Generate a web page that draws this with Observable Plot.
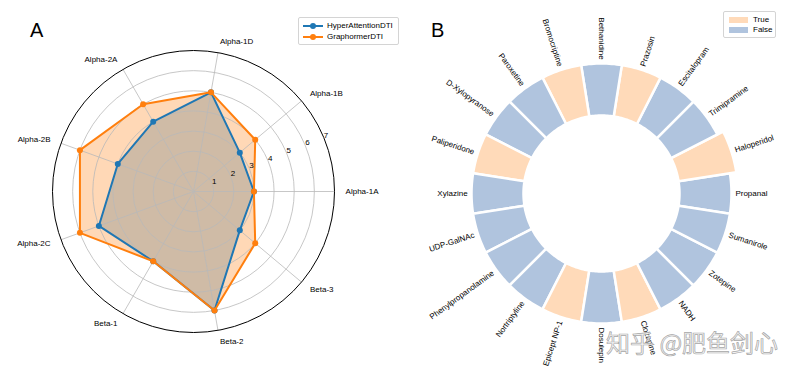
<!DOCTYPE html>
<html>
<head>
<meta charset="utf-8">
<script src="https://cdn.jsdelivr.net/npm/d3@7"></script>
<script src="https://cdn.jsdelivr.net/npm/@observablehq/plot@0.6"></script>
<style>
  body { margin: 0; background: #fff; font-family: "Liberation Sans", Arial, sans-serif; }
  #wrap { position: relative; width: 797px; height: 376px; overflow: hidden; background: #fff; }
  #panelA { position: absolute; left: 0; top: 0; }
  #panelB { position: absolute; left: 398px; top: 0; }
  .letter { position: absolute; font-size: 20px; line-height: 20px; color: #000; }
  .legend { position: absolute; background: rgba(255,255,255,0.85); border: 1px solid #d4d4d4; border-radius: 2px; box-sizing: border-box; }
  .row { position: absolute; left: 0; height: 10px; display: flex; align-items: center; font-size: 8px; line-height: 10px; color: #000; white-space: nowrap; }
  .row svg { display: block; }
  .wm { position: absolute; left: 606px; top: 328px; font-family: "Noto Sans CJK SC", sans-serif; font-size: 24px; line-height: 28px; color: rgba(240,240,240,0.85); -webkit-text-stroke: 0.7px rgba(150,150,150,0.85); white-space: nowrap; letter-spacing: 0px; }
</style>
</head>
<body>
<div id="wrap">
  <div id="panelA"></div>
  <div id="panelB"></div>
  <div class="letter" style="left:30px; top:20px;">A</div>
  <div class="letter" style="left:431px; top:20px;">B</div>
  <div class="legend" id="legA" style="left:298px; top:17px; width:101px; height:28px;"></div>
  <div class="legend" id="legB" style="left:723px; top:11px; width:53px; height:27px;"></div>
  <div class="wm">知乎 @肥鱼剑心</div>
</div>
<script>
// ---------- Panel A data ----------
const categories = ["Alpha-1A", "Alpha-1B", "Alpha-1D", "Alpha-2A", "Alpha-2B", "Alpha-2C", "Beta-1", "Beta-2", "Beta-3"];
const hyperAttentionDTI = [3, 3, 5, 4, 4, 5, 4, 6, 3];
const graphormerDTI = [3, 4, 5, 5, 6, 6, 4, 6, 4];
const seriesNames = ["HyperAttentionDTI", "GraphormerDTI"];
const seriesColors = ["#1f77b4", "#ff7f0e"];
const ringTicks = [1, 2, 3, 4, 5, 6, 7];
const rMax = 7;

// ---------- Panel B data ----------
const drugs = ["Propanal", "Haloperidol", "Trimipramine", "Escitalopram", "Prazosin", "Bethanidine",
  "Bromocriptine", "Paroxetine", "D-Xylopyranose", "Paliperidone", "Xylazine", "UDP-GalNAc",
  "Phenylpropanolamine", "Nortriptyline", "Epicept NP-1", "Dosulepin", "Clozapine", "NADH",
  "Zotepine", "Sumanirole"];
const interaction = ["False", "True", "False", "False", "True", "False",
  "True", "False", "False", "True", "False", "False",
  "False", "False", "True", "False", "True", "False",
  "False", "False"];
const barHeights = [2, 2.25, 2, 2, 2, 2, 2, 2, 2, 2, 2, 2, 2, 2, 2, 2, 2, 2, 2, 2];
const statusNames = ["True", "False"];
const statusColors = ["#ffdab9", "#b0c4de"];
const barBottom = 3;

const font = '"Liberation Sans", Arial, sans-serif';
const rad = d => d * Math.PI / 180;

// ---------- Panel A ----------
const nCat = categories.length;
const catAngle = i => 360 * i / nCat;
const radarRows = [];
[hyperAttentionDTI, graphormerDTI].forEach((vals, s) => {
  vals.forEach((v, i) => {
    const a = rad(catAngle(i));
    radarRows.push({series: seriesNames[s], cat: categories[i], v, x: v * Math.cos(a), y: v * Math.sin(a)});
  });
});
const spokes = categories.map((c, i) => ({cat: c, a: rad(catAngle(i))}));
const catLabels = categories.map((c, i) => {
  const a = rad(catAngle(i));
  return {cat: c, x: 7.55 * Math.cos(a), y: 7.55 * Math.sin(a), right: Math.cos(a) > 0};
});
const tickLabels = ringTicks.map(v => ({v, x: v * Math.cos(rad(22.5)), y: v * Math.sin(rad(22.5))}));

const radarMarks = [];
// fills
seriesNames.forEach((s, k) => {
  radarMarks.push(Plot.line(radarRows.filter(d => d.series === s), {
    x: "x", y: "y", fill: seriesColors[k], fillOpacity: 0.3, stroke: "none", curve: "linear-closed"
  }));
});
// grid
radarMarks.push(Plot.dot(ringTicks.filter(v => v < rMax), {x: () => 0, y: () => 0, r: d => d, stroke: "#b9b9b9", strokeWidth: 0.8, fill: "none"}));
radarMarks.push(Plot.link(spokes, {x1: () => 0, y1: () => 0, x2: d => rMax * Math.cos(d.a), y2: d => rMax * Math.sin(d.a), stroke: "#b9b9b9", strokeWidth: 0.8}));
radarMarks.push(Plot.dot([rMax], {x: () => 0, y: () => 0, r: d => d, stroke: "#000", strokeWidth: 1, fill: "none"}));
// lines + markers
seriesNames.forEach((s, k) => {
  const rows = radarRows.filter(d => d.series === s);
  radarMarks.push(Plot.line(rows, {x: "x", y: "y", stroke: seriesColors[k], strokeWidth: 2, curve: "linear-closed"}));
  radarMarks.push(Plot.dot(rows, {x: "x", y: "y", r: 3, fill: seriesColors[k], stroke: "none"}));
});
radarMarks.push(Plot.text(tickLabels, {x: "x", y: "y", text: d => String(d.v), textAnchor: "start", lineAnchor: "bottom", fontSize: 8, fill: "#000"}));
radarMarks.push(Plot.text(catLabels.filter(d => d.right), {x: "x", y: "y", text: "cat", textAnchor: "start", fontSize: 8, fill: "#000"}));
radarMarks.push(Plot.text(catLabels.filter(d => !d.right), {x: "x", y: "y", text: "cat", textAnchor: "end", fontSize: 8, fill: "#000"}));

const plotA = Plot.plot({
  width: 398, height: 376,
  marginLeft: 52, marginRight: 64, marginTop: 50, marginBottom: 44,
  x: {domain: [-rMax, rMax], axis: null},
  y: {domain: [-rMax, rMax], axis: null},
  r: {type: "linear", domain: [0, rMax], range: [0, 141]},
  style: {fontFamily: font, fontSize: "8px", background: "transparent", overflow: "visible"},
  marks: radarMarks
});
document.getElementById("panelA").append(plotA);

// ---------- Panel B ----------
const nDrug = drugs.length;
const step = 360 / nDrug;
const segPts = [];
drugs.forEach((name, i) => {
  const c = i * step, top = barBottom + barHeights[i], N = 16;
  for (let k = 0; k <= N; k++) {
    const a = rad(c - step / 2 + step * k / N);
    segPts.push({name, status: interaction[i], x: top * Math.cos(a), y: top * Math.sin(a)});
  }
  for (let k = N; k >= 0; k--) {
    const a = rad(c - step / 2 + step * k / N);
    segPts.push({name, status: interaction[i], x: barBottom * Math.cos(a), y: barBottom * Math.sin(a)});
  }
});
const drugLabels = drugs.map((name, i) => {
  let a = i * step;
  if (a > 180) a -= 360;
  const r = barBottom + barHeights[i] + 0.15;
  return {name, a, x: r * Math.cos(rad(a)), y: r * Math.sin(rad(a)), right: a >= -90 && a < 90};
});

const plotB = Plot.plot({
  width: 399, height: 376,
  marginLeft: 21, marginRight: 14, marginTop: 11, marginBottom: 1,
  x: {domain: [-7, 7], axis: null},
  y: {domain: [-7, 7], axis: null},
  color: {domain: statusNames, range: statusColors},
  style: {fontFamily: font, fontSize: "8px", background: "transparent", overflow: "visible"},
  marks: [
    Plot.line(segPts, {x: "x", y: "y", z: "name", fill: "status", stroke: "#fff", strokeWidth: 2.5, curve: "linear-closed"}),
    Plot.text(drugLabels.filter(d => d.right), {x: "x", y: "y", text: "name", rotate: d => -d.a, textAnchor: "start", fontSize: 8, fill: "#000"}),
    Plot.text(drugLabels.filter(d => !d.right), {x: "x", y: "y", text: "name", rotate: d => 180 - d.a, textAnchor: "end", fontSize: 8, fill: "#000"})
  ]
});
document.getElementById("panelB").append(plotB);

// ---------- Legends ----------
const legA = document.getElementById("legA");
seriesNames.forEach((s, k) => {
  const row = document.createElement("div");
  row.className = "row";
  row.style.top = (3 + k * 11) + "px";
  row.style.left = "3px";
  row.innerHTML = `<svg width="22" height="10"><line x1="1" y1="5" x2="21" y2="5" stroke="${seriesColors[k]}" stroke-width="2"/><circle cx="11" cy="5" r="3" fill="${seriesColors[k]}"/></svg><span style="margin-left:3px">${s}</span>`;
  legA.append(row);
});
const legB = document.getElementById("legB");
statusNames.forEach((s, k) => {
  const row = document.createElement("div");
  row.className = "row";
  row.style.top = (3 + k * 10) + "px";
  row.style.left = "4px";
  row.innerHTML = `<svg width="20" height="10"><rect x="1" y="2" width="19" height="6" fill="${statusColors[k]}"/></svg><span style="margin-left:5px">${s}</span>`;
  legB.append(row);
});
</script>
</body>
</html>
